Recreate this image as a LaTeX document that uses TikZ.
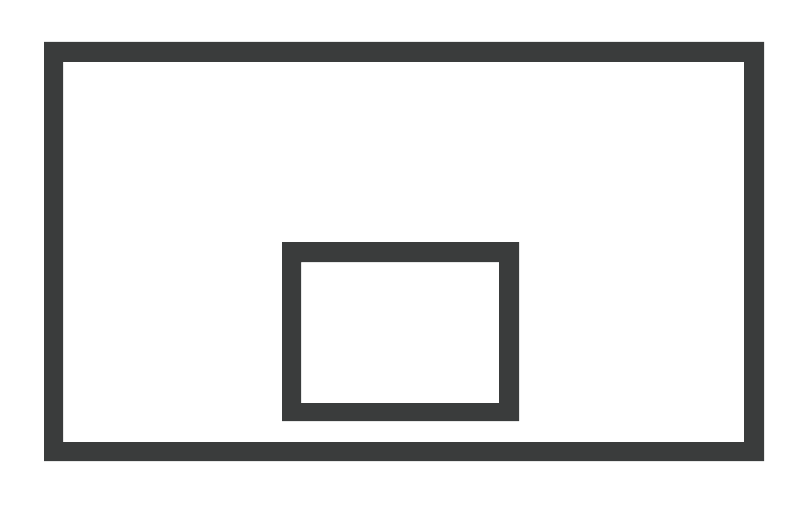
\documentclass[tikz,border=0pt]{standalone}
\definecolor{boardframe}{HTML}{3A3C3C}
\begin{document}
\begin{tikzpicture}[x=1pt,y=-1pt,
  frame/.style={fill=boardframe,even odd rule}]
\useasboundingbox (0,0) rectangle (800,516);
% backboard border
\path[frame] (44,42) rectangle (764,461) (63,62) rectangle (744,442);
% shooter's square
\path[frame] (282,242) rectangle (519,421) (301,262) rectangle (499,403);
\end{tikzpicture}
\end{document}
